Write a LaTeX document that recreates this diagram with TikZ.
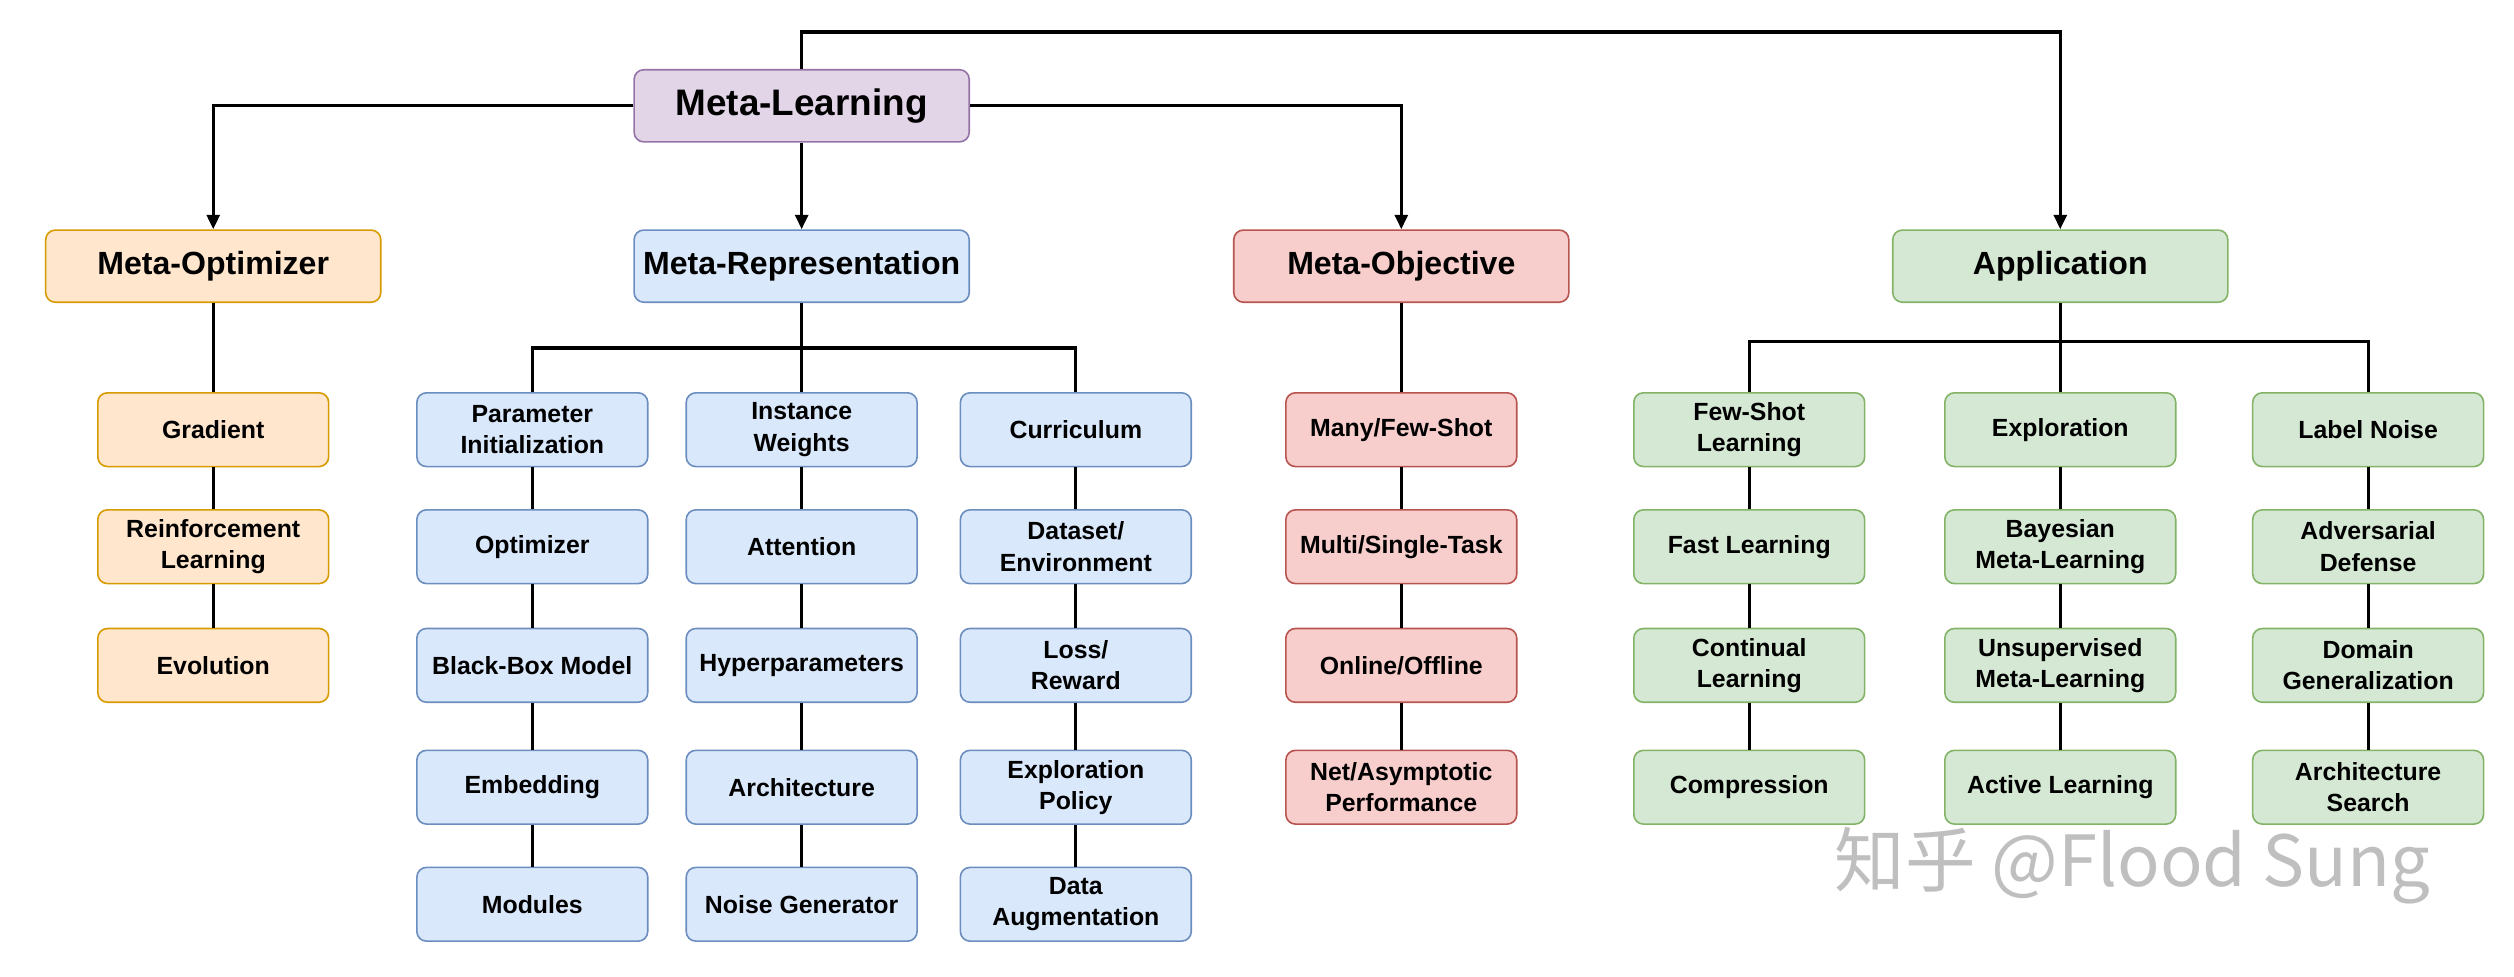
\documentclass[tikz,border=0pt]{standalone}
\usepackage{fontspec}
\setmainfont{Liberation Sans}
\newfontfamily\cjkf{Noto Sans CJK SC}
\usetikzlibrary{arrows.meta}
\definecolor{pF}{HTML}{E1D5E7}\definecolor{pD}{HTML}{9673A6}
\definecolor{oF}{HTML}{FFE6CC}\definecolor{oD}{HTML}{D79B00}
\definecolor{bF}{HTML}{DAE8FC}\definecolor{bD}{HTML}{6C8EBF}
\definecolor{rF}{HTML}{F8CECC}\definecolor{rD}{HTML}{B85450}
\definecolor{gF}{HTML}{D5E8D4}\definecolor{gD}{HTML}{82B366}
\begin{document}
\begin{tikzpicture}[x=1pt,y=-1pt,
 box/.style={draw,rounded corners=6pt,line width=1pt,align=center,font=\bfseries\fontsize{15.5}{19.5}\selectfont,inner sep=0pt},
 sm/.style={box,minimum width=144pt,minimum height=46pt},
 big/.style={box,minimum width=209pt,minimum height=45pt,font=\bfseries\fontsize{20}{23}\selectfont},
 O/.style={fill=oF,draw=oD},B/.style={fill=bF,draw=bD},R/.style={fill=rF,draw=rD},G/.style={fill=gF,draw=gD},
 wmark/.style={text=black!25,font=\cjkf\fontsize{44}{44}\selectfont,anchor=center},
 ln/.style={line width=2pt},ar/.style={ln,-{Triangle[length=9pt,width=8pt]}}]
\useasboundingbox (0,0) rectangle (1568,609);
\node[wmark] (wm) at (1330,540) {知乎 @Flood Sung};
\node[big,fill=pF,draw=pD,font=\bfseries\fontsize{23}{26}\selectfont] (ml) at (500,66) {Meta-Learning};
\node[big,O] (mo) at (133,166) {Meta-Optimizer};
\node[big,B] (mr) at (500,166) {Meta-Representation};
\node[big,R] (mj) at (874,166) {Meta-Objective};
\node[big,G] (ap) at (1285,166) {Application};
% optimizer
\node[sm,O] (o1) at (133,268) {Gradient};
\node[sm,O] (o2) at (133,341) {Reinforcement\\Learning};
\node[sm,O] (o3) at (133,415) {Evolution};
% representation
\node[sm,B] (a1) at (332,268) {Parameter\\Initialization};
\node[sm,B] (a2) at (332,341) {Optimizer};
\node[sm,B] (a3) at (332,415) {Black-Box Model};
\node[sm,B] (a4) at (332,491) {Embedding};
\node[sm,B] (a5) at (332,564) {Modules};
\node[sm,B] (b1) at (500,268) {Instance\\Weights};
\node[sm,B] (b2) at (500,341) {Attention};
\node[sm,B] (b3) at (500,415) {Hyperparameters};
\node[sm,B] (b4) at (500,491) {Architecture};
\node[sm,B] (b5) at (500,564) {Noise Generator};
\node[sm,B] (c1) at (671,268) {Curriculum};
\node[sm,B] (c2) at (671,341) {Dataset/\\Environment};
\node[sm,B] (c3) at (671,415) {Loss/\\Reward};
\node[sm,B] (c4) at (671,491) {Exploration\\Policy};
\node[sm,B] (c5) at (671,564) {Data\\Augmentation};
% objective
\node[sm,R] (j1) at (874,268) {Many/Few-Shot};
\node[sm,R] (j2) at (874,341) {Multi/Single-Task};
\node[sm,R] (j3) at (874,415) {Online/Offline};
\node[sm,R] (j4) at (874,491) {Net/Asymptotic\\Performance};
% application
\node[sm,G] (d1) at (1091,268) {Few-Shot\\Learning};
\node[sm,G] (d2) at (1091,341) {Fast Learning};
\node[sm,G] (d3) at (1091,415) {Continual\\Learning};
\node[sm,G] (d4) at (1091,491) {Compression};
\node[sm,G] (e1) at (1285,268) {Exploration};
\node[sm,G] (e2) at (1285,341) {Bayesian\\Meta-Learning};
\node[sm,G] (e3) at (1285,415) {Unsupervised\\Meta-Learning};
\node[sm,G] (e4) at (1285,491) {Active Learning};
\node[sm,G] (f1) at (1477,268) {Label Noise};
\node[sm,G] (f2) at (1477,341) {Adversarial\\Defense};
\node[sm,G] (f3) at (1477,415) {Domain\\Generalization};
\node[sm,G] (f4) at (1477,491) {Architecture\\Search};
% top arrows
\draw[ar] (ml.west) -| (mo.north);
\draw[ar] (ml.east) -| (mj.north);
\draw[ar] (ml.south) -- (mr.north);
\coordinate (t1) at (500,20);
\draw[ar] (ml.north) -- (t1) -| (ap.north);
% chains
\draw[ln] (mo)--(o1) (o1)--(o2) (o2)--(o3);
\draw[ln] (mj)--(j1) (j1)--(j2) (j2)--(j3) (j3)--(j4);
\coordinate (rb) at (500,217);
\draw[ln] (mr.south)--(rb) (a1.north)|-(rb) (c1.north)|-(rb) (b1.north)--(rb);
\coordinate (gb) at (1285,213);
\draw[ln] (ap.south)--(gb) (d1.north)|-(gb) (f1.north)|-(gb) (e1.north)--(gb);
\foreach \p in {a,b,c}{\draw[ln] (\p1)--(\p2) (\p2)--(\p3) (\p3)--(\p4) (\p4)--(\p5);}
\foreach \p in {d,e,f}{\draw[ln] (\p1)--(\p2) (\p2)--(\p3) (\p3)--(\p4);}
\end{tikzpicture}
\end{document}
